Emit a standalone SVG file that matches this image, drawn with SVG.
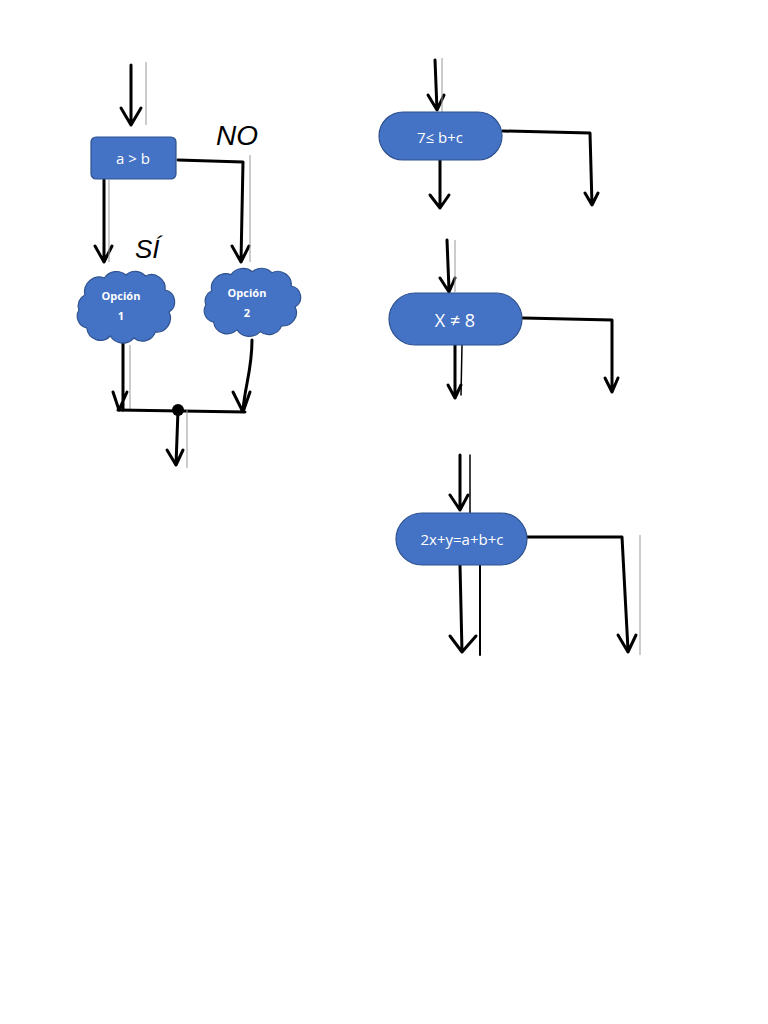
<svg xmlns="http://www.w3.org/2000/svg" width="768" height="1024" viewBox="0 0 768 1024">
<style>
.ln{fill:none;stroke:#000;stroke-width:3;stroke-linecap:round;stroke-linejoin:round}
.gr{fill:none;stroke:#999;stroke-width:1}
.bx{fill:#4472C4;stroke:#2F528F;stroke-width:1.2}
.t{fill:#fff;font-family:"Open Sans","Liberation Sans",sans-serif;text-anchor:middle}
.hw{fill:#000;font-family:"Liberation Sans",sans-serif;font-style:italic}
</style>
<defs>
<path id="cloud" d="M10,25 A15 15 0 0 1 30,8 A15 15 0 0 1 52,5 A14 14 0 0 1 72,6 A14 14 0 0 1 92,20 A12 12 0 0 1 96,42 A14 14 0 0 1 82,62 A14 14 0 0 1 60,68 A15 15 0 0 1 36,66 A14 14 0 0 1 12,58 A12 12 0 0 1 4,40 A12 12 0 0 1 10,25 Z"/>
</defs>
<rect width="768" height="1024" fill="#fff"/>
<g id="connectors">
<path class="ln" d="M131,65 L131,125 M121,108 L131,125 L141,108"/>
<line class="gr" x1="146" y1="62" x2="146" y2="125"/>
<path class="ln" d="M178,160 L243,162 L241,262 M232,246 L241,262 L249,246"/>
<line class="gr" x1="250" y1="155" x2="250" y2="262"/>
<path class="ln" d="M104,180 L104,262 M95,246 L104,262 L112,246"/>
<line class="gr" x1="109" y1="180" x2="109" y2="262"/>
<path class="ln" d="M123,342 L123,410 M113,392 L119,410 L127,392"/>
<line class="gr" x1="130" y1="345" x2="130" y2="410"/>
<path class="ln" d="M118,410 L245,412 M252,340 C252,370 245,385 243,410 M233,392 L243,412 L250,392"/>
<circle cx="178" cy="410" r="6" fill="#000"/>
<path class="ln" d="M178,410 L176,465 M167,450 L176,465 L183,450"/>
<line class="gr" x1="187" y1="410" x2="187" y2="468"/>
<path class="ln" d="M435,60 L437,110 M428,95 L437,110 L444,95"/>
<line class="gr" x1="442" y1="58" x2="442" y2="112"/>
<path class="ln" d="M503,131 L590,133 L592,205 M585,193 L592,205 L598,193"/>
<path class="ln" d="M440,160 L440,208 M430,195 L440,208 L449,195"/>
<path class="ln" d="M447,240 L449,290 M440,278 L449,292 L455,278"/>
<line class="gr" x1="455" y1="240" x2="455" y2="292"/>
<path class="ln" d="M523,318 L612,320 L612,392 M605,378 L612,392 L618,378"/>
<path class="ln" d="M455,345 L455,398 M448,385 L455,398 L461,385"/>
<line class="ln" x1="462" y1="345" x2="461" y2="395" style="stroke-width:1.5"/>
<path class="ln" d="M460,455 L460,510 M450,495 L460,510 L468,495"/>
<line class="ln" x1="470" y1="455" x2="470" y2="515" style="stroke-width:1.5"/>
<path class="ln" d="M527,537 L622,537 L628,650 M618,635 L628,652 L636,635"/>
<line class="gr" x1="640" y1="535" x2="640" y2="655"/>
<path class="ln" d="M460,565 L462,652 M450,636 L462,652 L476,636"/>
<line class="ln" x1="480" y1="565" x2="480" y2="655" style="stroke-width:2"/>
</g>
<text class="hw" x="216" y="145" font-size="28">NO</text>
<text class="hw" x="135" y="258" font-size="26">SÍ</text>
<g id="n1"><rect class="bx" x="91" y="137" width="85" height="42" rx="5"/><text class="t" x="133" y="164" font-size="15">a &gt; b</text></g>
<g id="n2"><use href="#cloud" class="bx" transform="translate(75,270) scale(0.98,1)"/><text class="t" x="121" y="300" font-size="11" font-weight="bold">Opción</text><text class="t" x="121" y="320" font-size="11" font-weight="bold">1</text></g>
<g id="n3"><use href="#cloud" class="bx" transform="translate(202,267) scale(0.97,0.95)"/><text class="t" x="247" y="297" font-size="11" font-weight="bold">Opción</text><text class="t" x="247" y="317" font-size="11" font-weight="bold">2</text></g>
<g id="n4"><rect class="bx" x="379" y="112" width="123" height="48" rx="24"/><text class="t" x="440" y="143" font-size="15">7≤ b+c</text></g>
<g id="n5"><rect class="bx" x="389" y="293" width="133" height="52" rx="26"/><text class="t" x="455" y="327" font-size="18">X ≠ 8</text></g>
<g id="n6"><rect class="bx" x="396" y="513" width="131" height="52" rx="26"/><text class="t" x="462" y="545" font-size="15">2x+y=a+b+c</text></g>
</svg>
